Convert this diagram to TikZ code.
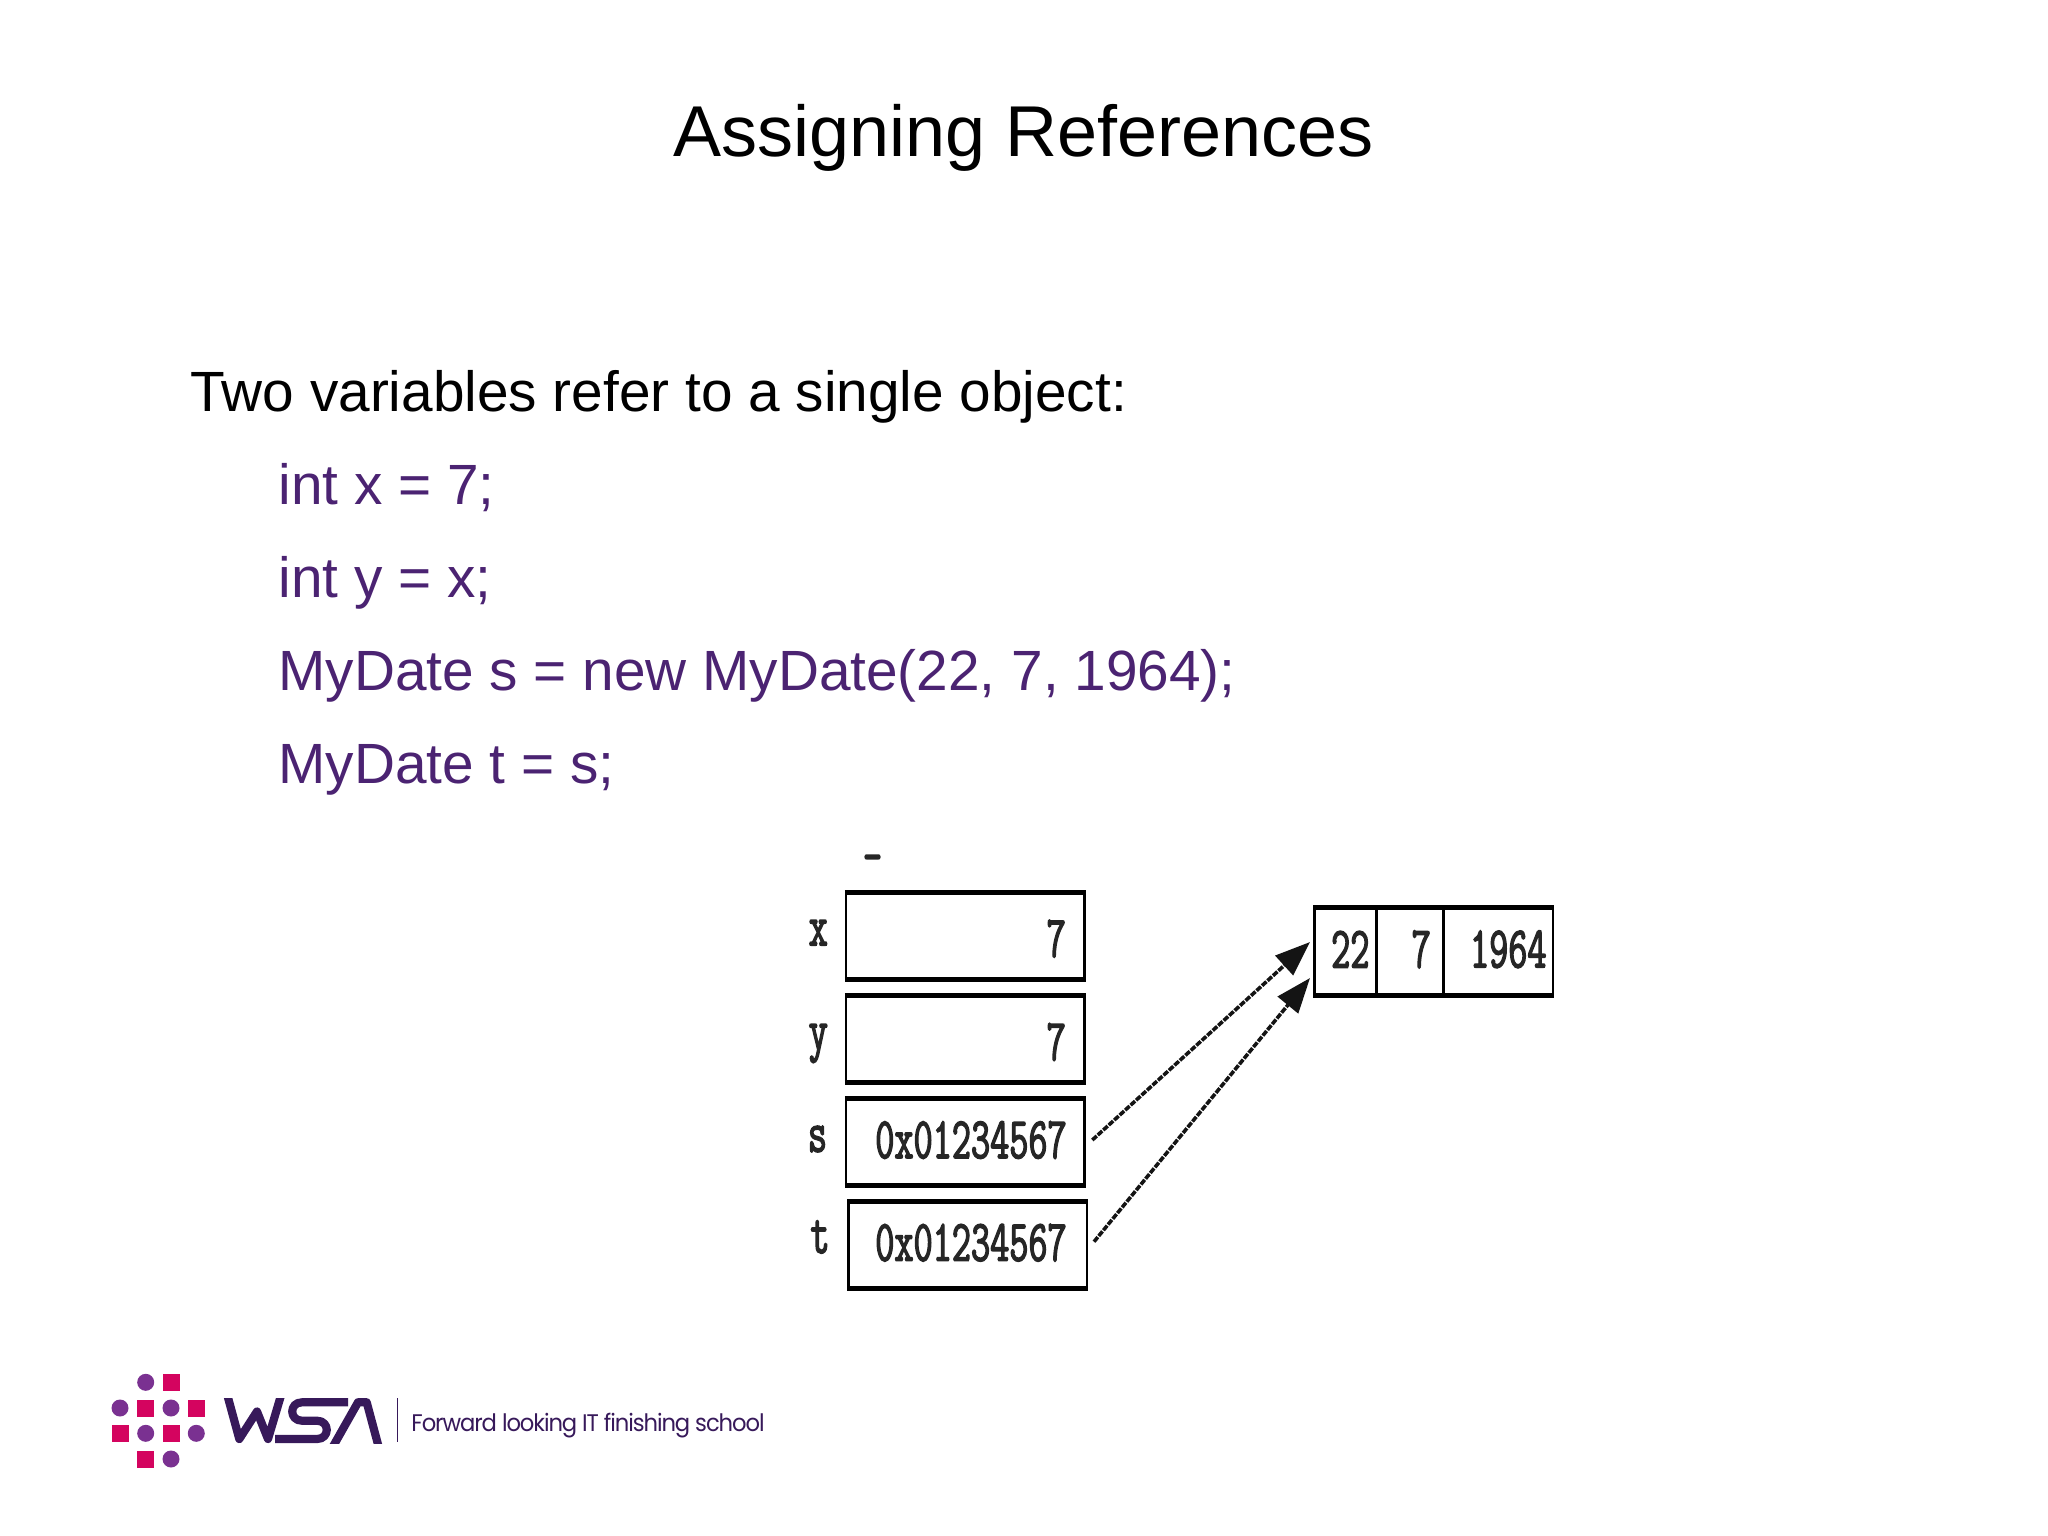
\documentclass[tikz,border=0pt]{standalone}
\usepackage{fontspec}
\setmainfont{Liberation Sans}
\newfontfamily\bmp[FakeStretch=0.63,FakeBold=2.2]{Latin Modern Mono}
\newfontfamily\tagfont[FakeStretch=0.945,LetterSpace=-4.5]{Poppins}
\usetikzlibrary{arrows.meta}
\definecolor{wsadark}{HTML}{37195A}
\definecolor{codepurple}{HTML}{4B2372}
\definecolor{wsapink}{HTML}{D4045F}
\definecolor{wsaviolet}{HTML}{7A3191}
\tikzset{
  title/.style={font=\fontsize{36}{40}\selectfont,text=black,inner sep=0,anchor=base},
  body/.style={font=\fontsize{28.37}{32}\selectfont,text=black,inner sep=0,anchor=base west},
  code/.style={body,text=codepurple},
  cell/.style={draw=black,line width=1.15pt,outer sep=0,minimum width=119.35pt,minimum height=43.65pt,inner sep=0,anchor=north west},
  bar/.style={line width=2.5pt,black,shorten >=-.55pt,shorten <=-.55pt},
  thin bar/.style={line width=1.4pt,black},
  rasterT/.style={font=\bmp\fontsize{29.5}{31}\selectfont,text=black!85,inner sep=0,anchor=center},
  ptr/.style={line width=1.8pt,black!92,dash pattern=on 3pt off .7pt,-{Triangle[length=17.5pt,width=13pt,sep=0pt]}},
  sq/.style={fill=wsapink,draw=none,minimum size=8.5pt,inner sep=0},
  dot/.style={fill=wsaviolet,draw=none,circle,minimum size=8.5pt,inner sep=0},
}
\begin{document}
\begin{tikzpicture}[x=0.5pt,y=-0.5pt]
\useasboundingbox (0,0) rectangle (2048,1535);
\node[title] (ttl) at (1023.5,157) {Assigning References};
\node[body] (b0) at (190,411) {Two variables refer to a single object:};
\node[code] (b1) at (278,504.5) {int x = 7;};
\node[code] (b2) at (278,597) {int y = x;};
\node[code] (b3) at (278,690) {MyDate s = new MyDate(22, 7, 1964);};
\node[code] (b4) at (278,783.5) {MyDate t = s;};
% memory cells
\node[rasterT] (dash) at (872.5,865) {-};
\node[cell] (x) at (845.9,892.5) {};
\node[cell] (y) at (845.9,995.5) {};
\node[cell] (s) at (845.9,1098.5) {};
\node[cell] (t) at (848.5,1201.2) {};
\foreach \n in {x,y,s,t}{
  \draw[bar] (\n.north west) -- (\n.north east);
  \draw[bar] (\n.south west) -- (\n.south east);
}
\node[rasterT] (lx) at (818.3,932.7) {x};
\node[rasterT] (ly) at (818.3,1043.5) {y};
\node[rasterT] (ls) at (817.5,1139) {s};
\node[rasterT] (lt) at (820,1237) {t};
\node[rasterT] (vx) at (1056.3,938.7) {7};
\node[rasterT] (vy) at (1056.3,1042) {7};
\node[rasterT] (vs) at (971,1140) {0x01234567};
\node[rasterT] (vt) at (971,1242.7) {0x01234567};
% object
\node[cell] (obj) at (1314.5,907.8) {};
\draw[bar] (obj.north west) -- (obj.north east);
\draw[bar] (obj.south west) -- (obj.south east);
\coordinate (d1t) at (1376.7,907.8); \coordinate (d1b) at (1376.7,995.1);
\coordinate (d2t) at (1443.7,907.8); \coordinate (d2b) at (1443.7,995.1);
\draw[thin bar] (d1t) -- (d1b);
\draw[thin bar] (d2t) -- (d2b);
\node[rasterT] (o1) at (1350.3,949.3) {22};
\node[rasterT] (o2) at (1421.3,949.3) {7};
\node[rasterT] (o3) at (1508.3,949.3) {1964};
% pointers
\coordinate (ps) at (1092.3,1140); \coordinate (pt) at (1094,1241.7);
\coordinate (h1) at (1310,942); \coordinate (h2) at (1310,978);
\draw[ptr] (ps) -- (h1);
\draw[ptr] (pt) -- (h2);
% logo
\node[dot] (l1) at (145.7,1382.3) {};
\node[sq]  (l2) at (171,1382.3) {};
\node[dot] (l3) at (120,1408) {};
\node[sq]  (l4) at (145.7,1408) {};
\node[dot] (l5) at (171,1408) {};
\node[sq]  (l6) at (196.3,1408) {};
\node[sq]  (l7) at (120,1433.3) {};
\node[dot] (l8) at (145.7,1433.3) {};
\node[sq]  (l9) at (171,1433.3) {};
\node[dot] (l10) at (196.3,1433.3) {};
\node[sq]  (l11) at (145.7,1459) {};
\node[dot] (l12) at (171,1459) {};
% WSA wordmark
\begin{scope}
\clip (215,1398.3) rectangle (390,1443.3);
\begin{scope}[wsadark,line width=4.1pt,line join=round]
\draw (226.5,1392) -- (239.3,1439) -- (257,1411.5) -- (268,1439) -- (282,1392);
\draw (348,1402.3) -- (302,1402.3) .. controls (289,1402.3) and (289,1420.7) .. (302,1420.7) -- (317,1420.7) .. controls (330,1420.7) and (330,1439) .. (317,1439) -- (275,1439);
\draw (331,1450) -- (358,1402.3) -- (366.7,1402.3) -- (379.5,1450);
\end{scope}
\end{scope}
\draw[wsadark,line width=0.8pt] (397.3,1398) -- (397.3,1442);
\node[font=\tagfont\fontsize{12}{14}\selectfont,text=wsadark,inner sep=0,anchor=base west] (tagline) at (411,1431) {Forward looking IT finishing school};
\end{tikzpicture}
\end{document}
